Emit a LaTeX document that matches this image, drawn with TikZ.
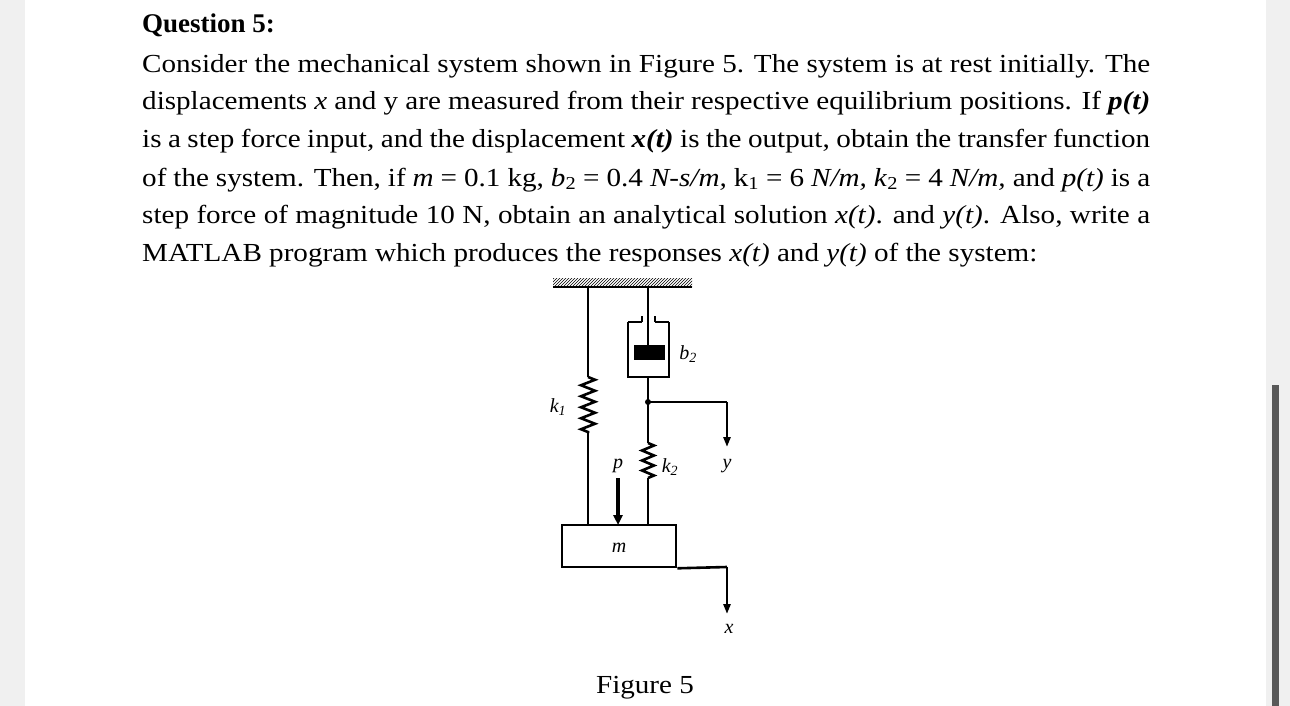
\documentclass[tikz,border=0pt]{standalone}
\usepackage{fontspec}
\setmainfont{Liberation Serif}
\newfontfamily\bodyfont[FakeStretch=1.12]{Liberation Serif}
\usetikzlibrary{decorations.pathmorphing,patterns,arrows.meta}
\begin{document}
\begin{tikzpicture}[x=1pt,y=-1pt,
  txt/.style={anchor=base west,inner sep=0pt,font=\bodyfont\fontsize{26}{30}\selectfont},
  lbl/.style={inner sep=0pt,font=\fontsize{20}{22}\selectfont\itshape},
  ln/.style={line width=2.6pt},
  spr/.style={ln,decorate,decoration={zigzag,segment length=11pt,amplitude=7pt}},
  arr/.style={ln,-{Triangle[length=10pt,width=7pt]}}]
\useasboundingbox (0,0) rectangle (1290,706);
\fill[black!6] (0,0) rectangle (1290,706);
\fill[white] (25,0) rectangle (1266,706);
\fill[black!65] (1272,385) rectangle (1279,706);
\node[anchor=base west,inner sep=0pt,font=\fontsize{27}{30}\selectfont] (t0) at (142,33) {\textbf{Question 5:}};
\node[txt] (t1) at (142,73) {\makebox[1008pt][s]{Consider the mechanical system shown in Figure 5. The system is at rest initially. The}};
\node[txt] (t2) at (142,110) {\makebox[1008pt][s]{displacements \textit{x} and y are measured from their respective equilibrium positions. If \textbf{\textit{p(t)}}}};
\node[txt] (t3) at (142,148) {\makebox[1008pt][s]{is a step force input, and the displacement \textbf{\textit{x(t)}} is the output, obtain the transfer function}};
\node[txt] (t4) at (142,186) {\makebox[1008pt][s]{of the system. Then, if \textit{m} = 0.1 kg, \textit{b}\textsubscript{2} = 0.4 \textit{N-s/m,} k\textsubscript{1} = 6 \textit{N/m, k}\textsubscript{2} = 4 \textit{N/m,} and \textit{p(t)} is a}};
\node[txt] (t5) at (142,223) {\makebox[1008pt][s]{step force of magnitude 10 N, obtain an analytical solution \textit{x(t)}. and \textit{y(t)}. Also, write a}};
\node[txt] (t6) at (142,261) {MATLAB program which produces the responses \textit{x(t)} and \textit{y(t)} of the system:};
% ground
\fill[pattern=north east lines] (553,278) rectangle (692,287);
\draw[ln] (553,287) -- (692,287);
\coordinate (g1) at (588,287);
\coordinate (g2) at (648,287);
% mass
\node[draw,ln,minimum width=114pt,minimum height=42pt,inner sep=0pt] (m) at (619,546) {};
\node[lbl] at (619,548) {m};
% k1
\coordinate (k1a) at (588,377);
\coordinate (k1b) at (588,433);
\draw[ln] (g1) -- (k1a);
\draw[spr] (k1a) -- (k1b);
\draw[ln] (k1b) -- (588,525);
\node[lbl] at (558,407) {k\textsubscript{1}};
% damper
\draw[ln] (628,322) -- (628,377) -- (669,377) -- (669,322);
\draw[ln] (628,322) -- (642,322) (655,322) -- (669,322);
\draw[ln] (642,322) -- (642,316) (655,322) -- (655,316);
\draw[ln] (g2) -- (648,345);
\fill (634,345) rectangle (665,360);
\node[lbl] at (688,354) {b\textsubscript{2}};
\coordinate (j) at (648,402);
\draw[ln] (648,377) -- (j);
\fill (j) circle (3pt);
\coordinate (y1) at (727,402);
\coordinate (y2) at (727,447);
\draw[ln] (j) -- (y1);
\draw[arr] (y1) -- (y2);
\node[lbl] at (727,466) {y};
% k2
\coordinate (k2a) at (648,443);
\coordinate (k2b) at (648,478);
\draw[ln] (j) -- (k2a);
\draw[spr,decoration={amplitude=6pt,segment length=10pt}] (k2a) -- (k2b);
\draw[ln] (k2b) -- (648,525);
\node[lbl] at (670,467) {k\textsubscript{2}};
% p
\draw[line width=3.4pt,-{Triangle[length=10pt,width=9pt]}] (618,478) -- (618,525);
\node[lbl] at (618,466) {p};
% x
\coordinate (x1) at (727,567);
\coordinate (x2) at (727,614);
\draw[ln] (m.south east) -- (x1);
\draw[arr] (x1) -- (x2);
\node[lbl] at (729,629) {x};
\node[inner sep=0pt,font=\bodyfont\fontsize{26}{30}\selectfont] (cap) at (645,688) {Figure 5};
\end{tikzpicture}
\end{document}
